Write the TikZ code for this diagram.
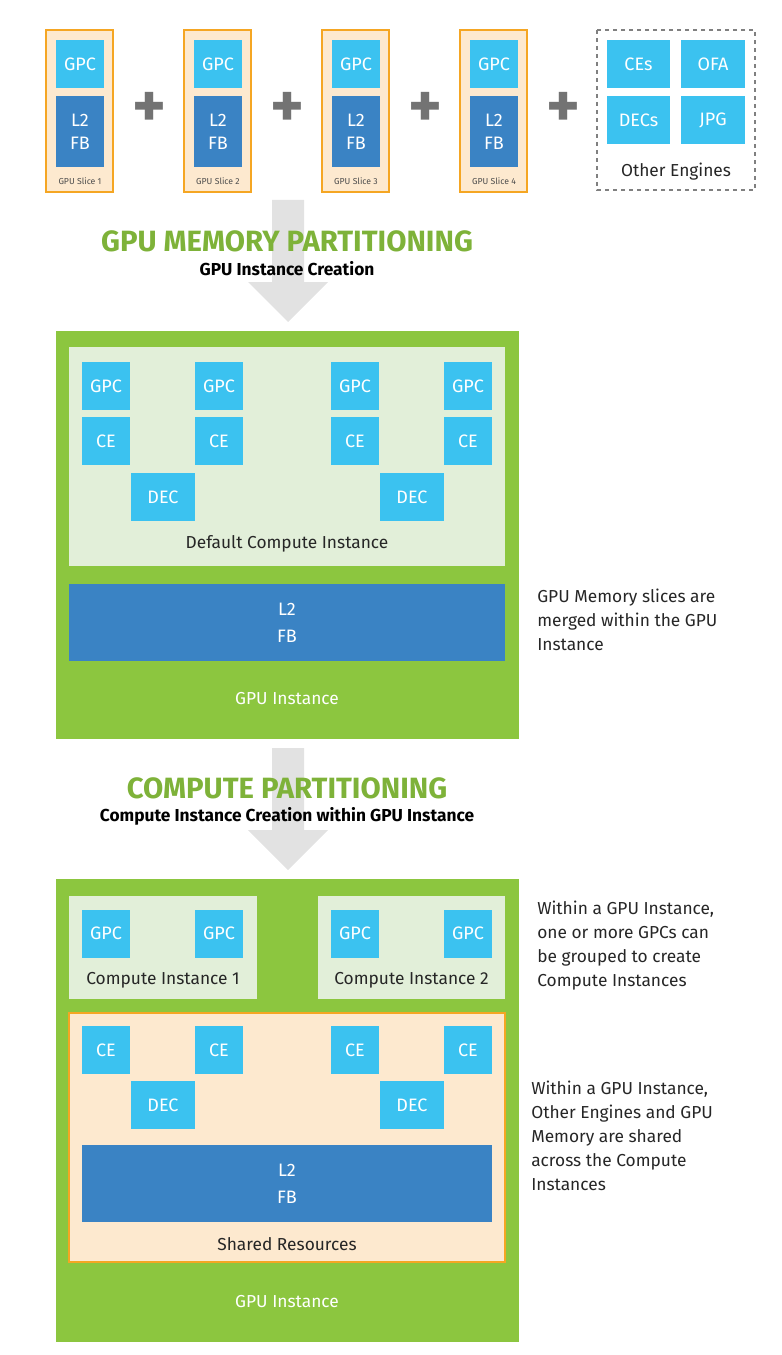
\documentclass[tikz,border=0pt]{standalone}
\usepackage{fontspec}
\setmainfont{Fira Sans}
\begin{document}
\begin{tikzpicture}[x=0.75pt,y=-0.75pt,
  blk/.style={fill=cyanb,draw=none,text=white,font=\fontsize{13.5}{15}\selectfont,inner sep=0},
  lbl/.style={font=\fontsize{13}{15}\selectfont,text=black!85},
  wl/.style={font=\fontsize{13}{15}\selectfont,text=white},
  rt/.style={font=\fontsize{13}{18}\selectfont,align=left,anchor=north west,text=black!85,inner sep=0},
  plus/.style={font=\fontsize{48}{48}\bfseries\selectfont,text=black!55}]
\definecolor{cyanb}{HTML}{3BC2F0}
\definecolor{darkb}{HTML}{3A83C4}
\definecolor{gr}{HTML}{8CC63F}
\definecolor{lgr}{HTML}{E2EFD9}
\definecolor{peach}{HTML}{FDE9CF}
\definecolor{org}{HTML}{F5A623}
\definecolor{arr}{HTML}{E2E2E2}
\useasboundingbox (0,0) rectangle (781,1355);
% top slices
\foreach \i/\x in {1/46,2/184,3/322,4/460}{
  \draw[org,fill=peach,line width=1.2pt] (\x,30) rectangle +(67,162);
  \node[blk,minimum width=36pt,minimum height=36pt] (g\i) at (\x+34,64) {GPC};
  \node[blk,fill=darkb,align=center,minimum width=36pt,minimum height=53pt] (l\i) at (\x+34,131.5) {L2\\[2pt]FB};
  \node[font=\fontsize{6.5}{7}\selectfont,text=black!70] (s\i) at (\x+34,181) {GPU Slice \i};
}
\foreach \x in {149,287,425,563}{\node[plus] at (\x,110) {+};}
\draw[black!50,dashed,line width=0.9pt] (597,30) rectangle (755,190);
\node[blk,minimum width=47pt,minimum height=36pt] (ces) at (638.5,64) {CEs};
\node[blk,minimum width=48pt,minimum height=36pt] (ofa) at (713,64) {OFA};
\node[blk,minimum width=47pt,minimum height=36pt] (decs) at (638.5,120) {DECs};
\node[blk,minimum width=48pt,minimum height=36pt] (jpg) at (713,120) {JPG};
\node[lbl] (oe) at (676,172) {Other Engines};
% arrow 1
\fill[arr] (272,200) -- (304,200) -- (304,282) -- (328,282) -- (288,322) -- (248,282) -- (272,282) -- cycle;
\node[font=\fontsize{22}{24}\bfseries\selectfont,text=gr!90!black] (t1) at (287,241) {GPU MEMORY PARTITIONING};
\node[font=\fontsize{13}{15}\bfseries\selectfont] (t1b) at (287,269) {GPU Instance Creation};
% GPU instance 1
\fill[gr] (56,331) rectangle (519,739);
\fill[lgr] (69,347) rectangle (505,566);
\foreach \x [count=\i] in {106,219,355,468}{
  \node[blk,minimum width=36pt,minimum height=36pt] (ag\i) at (\x,386) {GPC};
  \node[blk,minimum width=36pt,minimum height=36pt] (ac\i) at (\x,441) {CE};
}
\node[blk,minimum width=48pt,minimum height=36pt] (ad1) at (163,497) {DEC};
\node[blk,minimum width=48pt,minimum height=36pt] (ad2) at (412,497) {DEC};
\node[lbl] (dci) at (287,544) {Default Compute Instance};
\node[blk,fill=darkb,minimum width=327pt,minimum height=58pt,align=center] (al2) at (287,622.5) {L2\\[5pt]FB};
\node[wl] (gi1) at (287,699) {GPU Instance};
\node[rt] (r1) at (537,589) {GPU Memory slices are\\merged within the GPU\\Instance};
% arrow 2
\fill[arr] (272,748) -- (304,748) -- (304,830) -- (328,830) -- (288,870) -- (248,830) -- (272,830) -- cycle;
\node[font=\fontsize{22}{24}\bfseries\selectfont,text=gr!90!black] (t2) at (287,788) {COMPUTE PARTITIONING};
\node[font=\fontsize{13}{15}\bfseries\selectfont] (t2b) at (287,816) {Compute Instance Creation within GPU Instance};
% GPU instance 2
\fill[gr] (56,879) rectangle (519,1342);
\fill[lgr] (69,896) rectangle (257,999);
\fill[lgr] (318,896) rectangle (505,999);
\draw[org,fill=peach,line width=0.8pt] (69,1013) rectangle (505,1262);
\foreach \x [count=\i] in {106,219,355,468}{
  \node[blk,minimum width=36pt,minimum height=36pt] (bg\i) at (\x,933.5) {GPC};
  \node[blk,minimum width=36pt,minimum height=36pt] (bc\i) at (\x,1050) {CE};
}
\node[lbl] (ci1) at (163,980) {Compute Instance 1};
\node[lbl] (ci2) at (411.5,980) {Compute Instance 2};
\node[blk,minimum width=48pt,minimum height=36pt] (bd1) at (163,1105) {DEC};
\node[blk,minimum width=48pt,minimum height=36pt] (bd2) at (412,1105) {DEC};
\node[blk,fill=darkb,minimum width=307.5pt,minimum height=58pt,align=center] (bl2) at (287,1183.5) {L2\\[5pt]FB};
\node[lbl] (sr) at (287,1244) {Shared Resources};
\node[wl] (gi2) at (287,1302) {GPU Instance};
\node[rt] (r2) at (537,901) {Within a GPU Instance,\\one or more GPCs can\\be grouped to create\\Compute Instances};
\node[rt] (r3) at (531,1081) {Within a GPU Instance,\\Other Engines and GPU\\Memory are shared\\across the Compute\\Instances};
\end{tikzpicture}
\end{document}
